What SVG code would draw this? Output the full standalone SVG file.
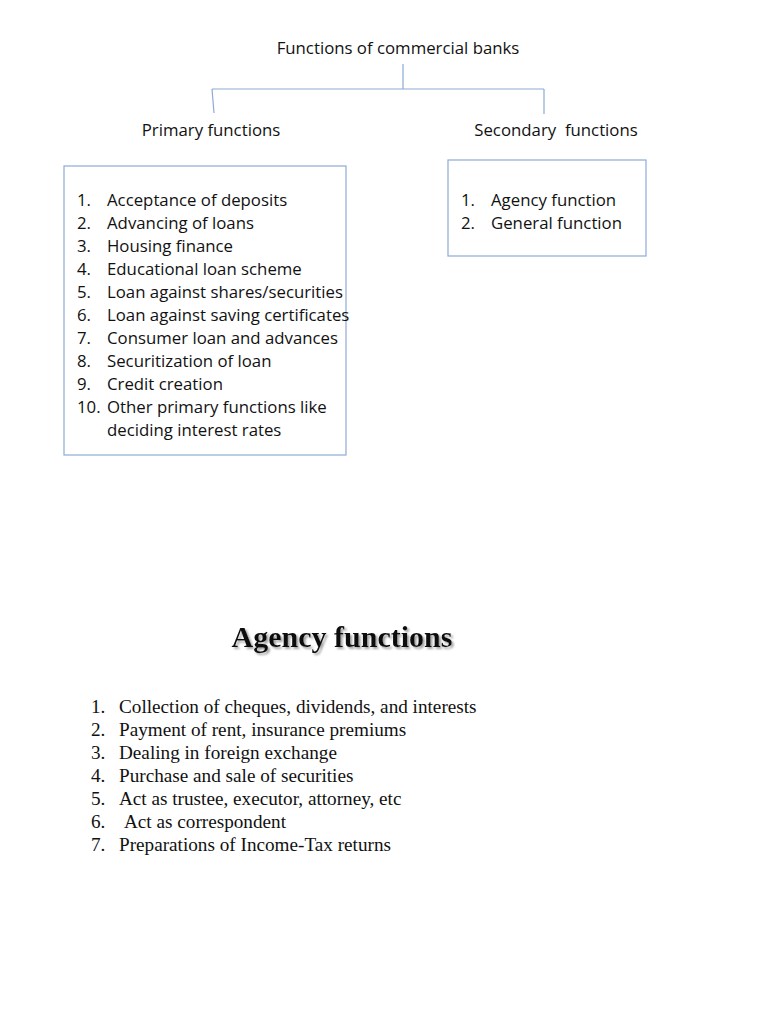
<svg xmlns="http://www.w3.org/2000/svg" width="768" height="1024" viewBox="0 0 768 1024">
<style>
.c{font-family:"Open Sans",Lato,"Liberation Sans",sans-serif;font-size:16.8px;fill:#111}
.t{font-family:"Liberation Serif","Times New Roman",serif;font-size:19.2px;fill:#111}
.box{fill:#fff;stroke:#8eaad6;stroke-width:1.2}
.ln{stroke:#8eaad6;stroke-width:1.2;fill:none}
</style>
<defs>
<filter id="sh" x="-10%" y="-30%" width="130%" height="170%">
<feDropShadow dx="2" dy="2" stdDeviation="1.2" flood-color="#888" flood-opacity="0.8"/>
</filter>
</defs>
<rect width="768" height="1024" fill="#fff"/>
<g id="title"><text class="c" x="398" y="54" text-anchor="middle">Functions of commercial banks</text></g>
<g id="connectors">
<path class="ln" d="M403,64 V89 M212,89 H544 M212,89 L214,113 M544,89 V114"/>
</g>
<g id="primary-label"><text class="c" x="211" y="136" text-anchor="middle">Primary functions</text></g>
<g id="secondary-label"><text class="c" x="556" y="136" text-anchor="middle" xml:space="preserve">Secondary  functions</text></g>
<g id="primary-box">
<rect class="box" x="64" y="166" width="282" height="289"/>
<text class="c" x="77" y="206">1.</text><text class="c" x="107" y="206">Acceptance of deposits</text>
<text class="c" x="77" y="229">2.</text><text class="c" x="107" y="229">Advancing of loans</text>
<text class="c" x="77" y="252">3.</text><text class="c" x="107" y="252">Housing finance</text>
<text class="c" x="77" y="275">4.</text><text class="c" x="107" y="275">Educational loan scheme</text>
<text class="c" x="77" y="298">5.</text><text class="c" x="107" y="298">Loan against shares/securities</text>
<text class="c" x="77" y="321">6.</text><text class="c" x="107" y="321">Loan against saving certificates</text>
<text class="c" x="77" y="344">7.</text><text class="c" x="107" y="344">Consumer loan and advances</text>
<text class="c" x="77" y="367">8.</text><text class="c" x="107" y="367">Securitization of loan</text>
<text class="c" x="77" y="390">9.</text><text class="c" x="107" y="390">Credit creation</text>
<text class="c" x="77" y="413">10.</text><text class="c" x="107" y="413">Other primary functions like</text>
<text class="c" x="107" y="436">deciding interest rates</text>
</g>
<g id="secondary-box">
<rect class="box" x="448" y="160" width="198" height="96"/>
<text class="c" x="461" y="206">1.</text><text class="c" x="491" y="206">Agency function</text>
<text class="c" x="461" y="229">2.</text><text class="c" x="491" y="229">General function</text>
</g>
<g id="agency-heading">
<text x="342" y="647" text-anchor="middle" font-family="'Liberation Serif','Times New Roman',serif" font-size="30" font-weight="bold" fill="#111" filter="url(#sh)">Agency functions</text>
</g>
<g id="agency-list">
<text class="t" x="91" y="713">1.</text><text class="t" x="119" y="713">Collection of cheques, dividends, and interests</text>
<text class="t" x="91" y="736">2.</text><text class="t" x="119" y="736">Payment of rent, insurance premiums</text>
<text class="t" x="91" y="759">3.</text><text class="t" x="119" y="759">Dealing in foreign exchange</text>
<text class="t" x="91" y="782">4.</text><text class="t" x="119" y="782">Purchase and sale of securities</text>
<text class="t" x="91" y="805">5.</text><text class="t" x="119" y="805">Act as trustee, executor, attorney, etc</text>
<text class="t" x="91" y="828">6.</text><text class="t" x="124" y="828">Act as correspondent</text>
<text class="t" x="91" y="851">7.</text><text class="t" x="119" y="851">Preparations of Income-Tax returns</text>
</g>
</svg>
